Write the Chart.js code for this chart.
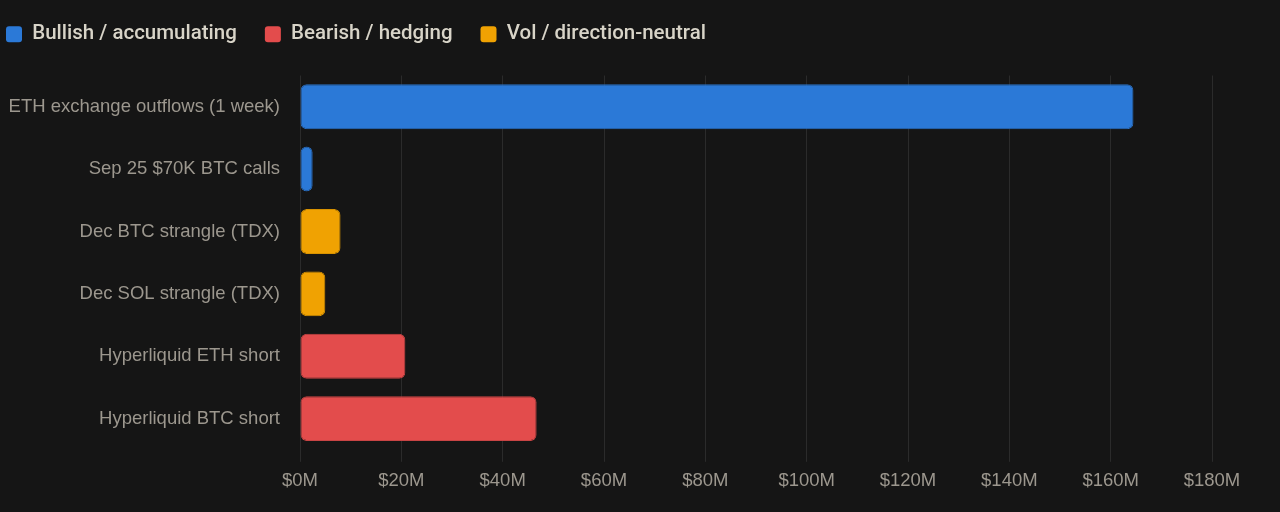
<!DOCTYPE html>
<html>
<head>
<meta charset="utf-8">
<script src="https://cdn.jsdelivr.net/npm/chart.js@4"></script>
<style>
  html, body { margin: 0; padding: 0; background: #151515; }
  #wrap { width: 1280px; height: 512px; }
</style>
</head>
<body>
<div id="wrap"><canvas id="flowChart"></canvas></div>
<script>
// Dữ liệu
const categories = [
    'ETH exchange outflows (1 week)',
    'Sep 25 $70K BTC calls',
    'Dec BTC strangle (TDX)',
    'Dec SOL strangle (TDX)',
    'Hyperliquid ETH short',
    'Hyperliquid BTC short'
];
const valuesM = [164.5, 2.5, 8, 5, 20.8, 46.7];
const groupOf = [0, 0, 2, 2, 1, 1];
const groupNames = ['Bullish / accumulating', 'Bearish / hedging', 'Vol / direction-neutral'];
const groupColors = ['#2b79d7', '#e34c4c', '#f0a202'];
const groupBorders = ['#2a6fc2', '#c94444', '#d89200'];
const xTicksM = [0, 20, 40, 60, 80, 100, 120, 140, 160, 180];

// dịch chú thích sang trái / lên trên cho giống bản gốc
const legendShift = {
    id: 'legendShift',
    afterLayout(chart) {
        chart.legend.left -= 22;
        chart.legend.top -= 21;
    }
};

const ctx = document.getElementById('flowChart').getContext('2d');
const chart = new Chart(ctx, {
    type: 'bar',
    data: {
        labels: categories,
        datasets: [{
            data: valuesM,
            backgroundColor: groupOf.map(g => groupColors[g]),
            borderColor: groupOf.map(g => groupBorders[g]),
            borderWidth: 1,
            borderRadius: 6,
            borderSkipped: false,
            barPercentage: 0.9,
            categoryPercentage: 0.8
        }]
    },
    options: {
        indexAxis: 'y',
        responsive: true,
        maintainAspectRatio: false,
        animation: false,
        layout: { padding: { left: 0, right: 68, top: 17, bottom: 12 } },
        plugins: {
            legend: {
                position: 'top',
                align: 'start',
                labels: {
                    color: '#d8d4c8',
                    font: { family: 'Roboto', size: 20.5, weight: '500' },
                    boxWidth: 16,
                    boxHeight: 16,
                    padding: 28,
                    useBorderRadius: true,
                    borderRadius: 3,
                    generateLabels: () => groupNames.map((name, i) => ({
                        text: name,
                        fillStyle: groupColors[i],
                        strokeStyle: groupColors[i],
                        lineWidth: 0,
                        borderRadius: 3,
                        fontColor: '#d8d4c8',
                        hidden: false,
                        index: i
                    }))
                },
                onClick: null
            },
            tooltip: { enabled: false }
        },
        scales: {
            x: {
                min: xTicksM[0],
                max: xTicksM[xTicksM.length - 1],
                afterBuildTicks: s => { s.ticks = xTicksM.map(v => ({ value: v })); },
                ticks: {
                    color: '#9c978e',
                    padding: 8,
                    font: { family: 'Liberation Sans', size: 18.5 },
                    callback: v => '$' + v + 'M'
                },
                grid: { color: '#2b2b2b', lineWidth: 1, tickLength: 12 },
                border: { display: false }
            },
            y: {
                afterFit: s => { s.width = 300; },
                ticks: {
                    color: '#9c978e',
                    padding: 12,
                    font: { family: 'Liberation Sans', size: 18.5 }
                },
                grid: { display: false },
                border: { display: false }
            }
        }
    },
    plugins: [legendShift]
});
</script>
</body>
</html>
